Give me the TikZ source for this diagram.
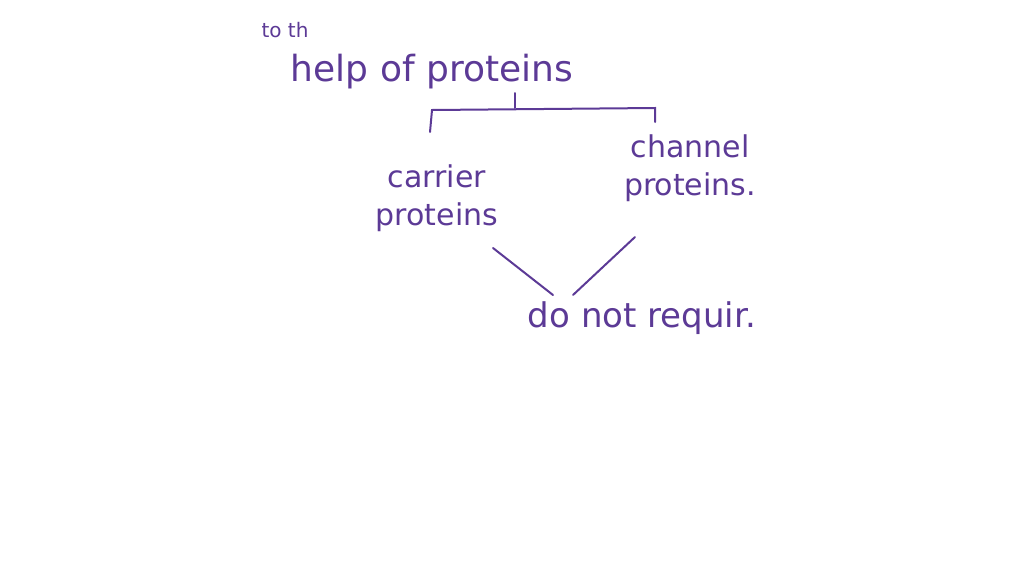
\documentclass[tikz,border=0pt]{standalone}
\usepackage{fontspec}
\setmainfont{DejaVu Sans}
\definecolor{ink}{RGB}{92,58,150}
\begin{document}
\begin{tikzpicture}[x=1pt,y=-1pt,
  hw/.style={text=ink,inner sep=0pt,align=center},
  ln/.style={draw=ink,line width=2pt,line cap=round}]
\useasboundingbox (0,0) rectangle (1024,576);
\node[hw,font=\fontsize{20}{22}\selectfont] (top) at (285,30) {to th};
\node[hw,font=\fontsize{36}{40}\selectfont] (help) at (432,72) {help of proteins};
\coordinate (bl) at (430,132);
\coordinate (bla) at (432,110);
\coordinate (br) at (655,108);
\coordinate (bra) at (655,122);
\coordinate (bc) at (515,108);
\coordinate (bct) at (515,93);
\draw[ln] (bl) -- (bla) -- (br) -- (bra);
\draw[ln] (bc) -- (bct);
\node[hw,font=\fontsize{30}{38}\selectfont] (carrier) at (437,198) {carrier\\proteins};
\node[hw,font=\fontsize{30}{38}\selectfont] (channel) at (690,168) {channel\\proteins.};
\node[hw,font=\fontsize{34}{38}\selectfont] (req) at (642,318) {do not requir.};
\coordinate (a1) at (493,248);
\coordinate (a2) at (553,295);
\coordinate (b1) at (635,237);
\coordinate (b2) at (573,295);
\draw[ln] (a1) -- (a2);
\draw[ln] (b1) -- (b2);
\end{tikzpicture}
\end{document}
